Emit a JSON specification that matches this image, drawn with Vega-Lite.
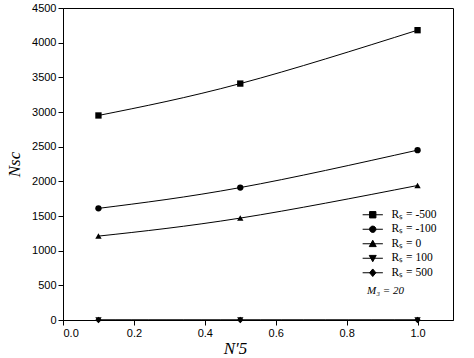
{
  "$schema": "https://vega.github.io/schema/vega-lite/v6.json",
  "width": 390,
  "height": 312,
  "autosize": "none",
  "padding": {"left": 63, "top": 8, "right": 21, "bottom": 38},
  "background": "white",
  "config": {
    "view": {"stroke": "black", "strokeWidth": 1},
    "axis": {
      "domainColor": "black",
      "tickColor": "black",
      "labelColor": "black",
      "labelFont": "Liberation Sans, Arial, sans-serif",
      "labelFontSize": 11,
      "titleColor": "black",
      "titleFont": "Liberation Serif, Times New Roman, serif",
      "titleFontStyle": "italic",
      "titleFontWeight": "normal",
      "titleFontSize": 17,
      "grid": false,
      "tickSize": 5
    }
  },
  "data": {
    "values": [
      {"x": 0.1, "y": 2950, "s": "Rₛ = -500"},
      {"x": 0.5, "y": 3410, "s": "Rₛ = -500"},
      {"x": 1.0, "y": 4180, "s": "Rₛ = -500"},
      {"x": 0.1, "y": 1610, "s": "Rₛ = -100"},
      {"x": 0.5, "y": 1910, "s": "Rₛ = -100"},
      {"x": 1.0, "y": 2450, "s": "Rₛ = -100"},
      {"x": 0.1, "y": 1210, "s": "Rₛ =  0"},
      {"x": 0.5, "y": 1470, "s": "Rₛ =  0"},
      {"x": 1.0, "y": 1940, "s": "Rₛ =  0"},
      {"x": 0.1, "y": 0, "s": "Rₛ = 100"},
      {"x": 0.5, "y": 0, "s": "Rₛ = 100"},
      {"x": 1.0, "y": 0, "s": "Rₛ = 100"},
      {"x": 0.1, "y": 0, "s": "Rₛ = 500"},
      {"x": 0.5, "y": 0, "s": "Rₛ = 500"},
      {"x": 1.0, "y": 0, "s": "Rₛ = 500"}
    ]
  },
  "encoding": {
    "x": {
      "field": "x",
      "type": "quantitative",
      "scale": {"domain": [0, 1.1], "nice": false, "zero": false},
      "axis": {
        "values": [0, 0.2, 0.4, 0.6, 0.8, 1.0],
        "format": ".1f",
        "title": "N′5",
        "titleX": 172,
        "titlePadding": 2
      }
    },
    "y": {
      "field": "y",
      "type": "quantitative",
      "scale": {"domain": [0, 4500], "nice": false},
      "axis": {
        "values": [0, 500, 1000, 1500, 2000, 2500, 3000, 3500, 4000, 4500],
        "format": "d",
        "title": "Nsc",
        "titlePadding": 8
      }
    }
  },
  "layer": [
    {
      "mark": {"type": "line", "interpolate": "natural", "color": "black", "strokeWidth": 1},
      "encoding": {"detail": {"field": "s"}}
    },
    {
      "transform": [{"filter": "datum.s === 'Rₛ = -500'"}],
      "mark": {"type": "point", "filled": true, "color": "black", "opacity": 1, "size": 40, "shape": "square"}
    },
    {
      "transform": [{"filter": "datum.s === 'Rₛ = -100'"}],
      "mark": {"type": "point", "filled": true, "color": "black", "opacity": 1, "size": 40, "shape": "circle"}
    },
    {
      "transform": [{"filter": "datum.s === 'Rₛ =  0'"}],
      "mark": {"type": "point", "filled": true, "color": "black", "opacity": 1, "size": 40, "shape": "triangle-up"}
    },
    {
      "transform": [{"filter": "datum.s === 'Rₛ = 100'"}],
      "mark": {"type": "point", "filled": true, "color": "black", "opacity": 1, "size": 40, "shape": "triangle-down"}
    },
    {
      "transform": [{"filter": "datum.s === 'Rₛ = 500'"}],
      "mark": {"type": "point", "filled": true, "color": "black", "opacity": 1, "size": 40, "shape": "diamond"}
    },
    {
      "mark": {"type": "point", "filled": true, "color": "black", "opacity": 0, "size": 40, "strokeWidth": 1},
      "encoding": {
        "shape": {
          "field": "s",
          "type": "nominal",
          "scale": {
            "domain": ["Rₛ = -500", "Rₛ = -100", "Rₛ =  0", "Rₛ = 100", "Rₛ = 500"],
            "range": [
              "M-3.2,0H3.2M-1,-1H1V1H-1Z",
              "M-3.2,0H3.2M1,0A1,1,0,1,1,-1,0A1,1,0,1,1,1,0Z",
              "M-3.2,0H3.2M0,-1.1L1.1,0.9H-1.1Z",
              "M-3.2,0H3.2M0,1.1L1.1,-0.9H-1.1Z",
              "M-3.2,0H3.2M0,-1.2L1,0L0,1.2L-1,0Z"
            ]
          },
          "legend": {
            "orient": "none",
            "legendX": 304,
            "legendY": 201,
            "title": "M₃ = 20",
            "titleOrient": "bottom",
            "titleFont": "Liberation Serif",
            "titleFontStyle": "italic",
            "titleFontWeight": "normal",
            "titleFontSize": 11,
            "titleColor": "black",
            "titlePadding": 6,
            "labelFont": "Liberation Serif",
            "labelFontSize": 11.5,
            "labelColor": "black",
            "labelOffset": 13,
            "rowPadding": 1.5,
            "padding": 0,
            "symbolSize": 40,
            "symbolOpacity": 1,
            "symbolFillColor": "black",
            "symbolStrokeColor": "black",
            "symbolStrokeWidth": 1,
            "encoding": {
              "symbols": {
                "opacity": {"value": 1},
                "fill": {"value": "black"},
                "stroke": {"value": "black"},
                "strokeWidth": {"value": 1}
              }
            }
          }
        }
      }
    }
  ]
}
